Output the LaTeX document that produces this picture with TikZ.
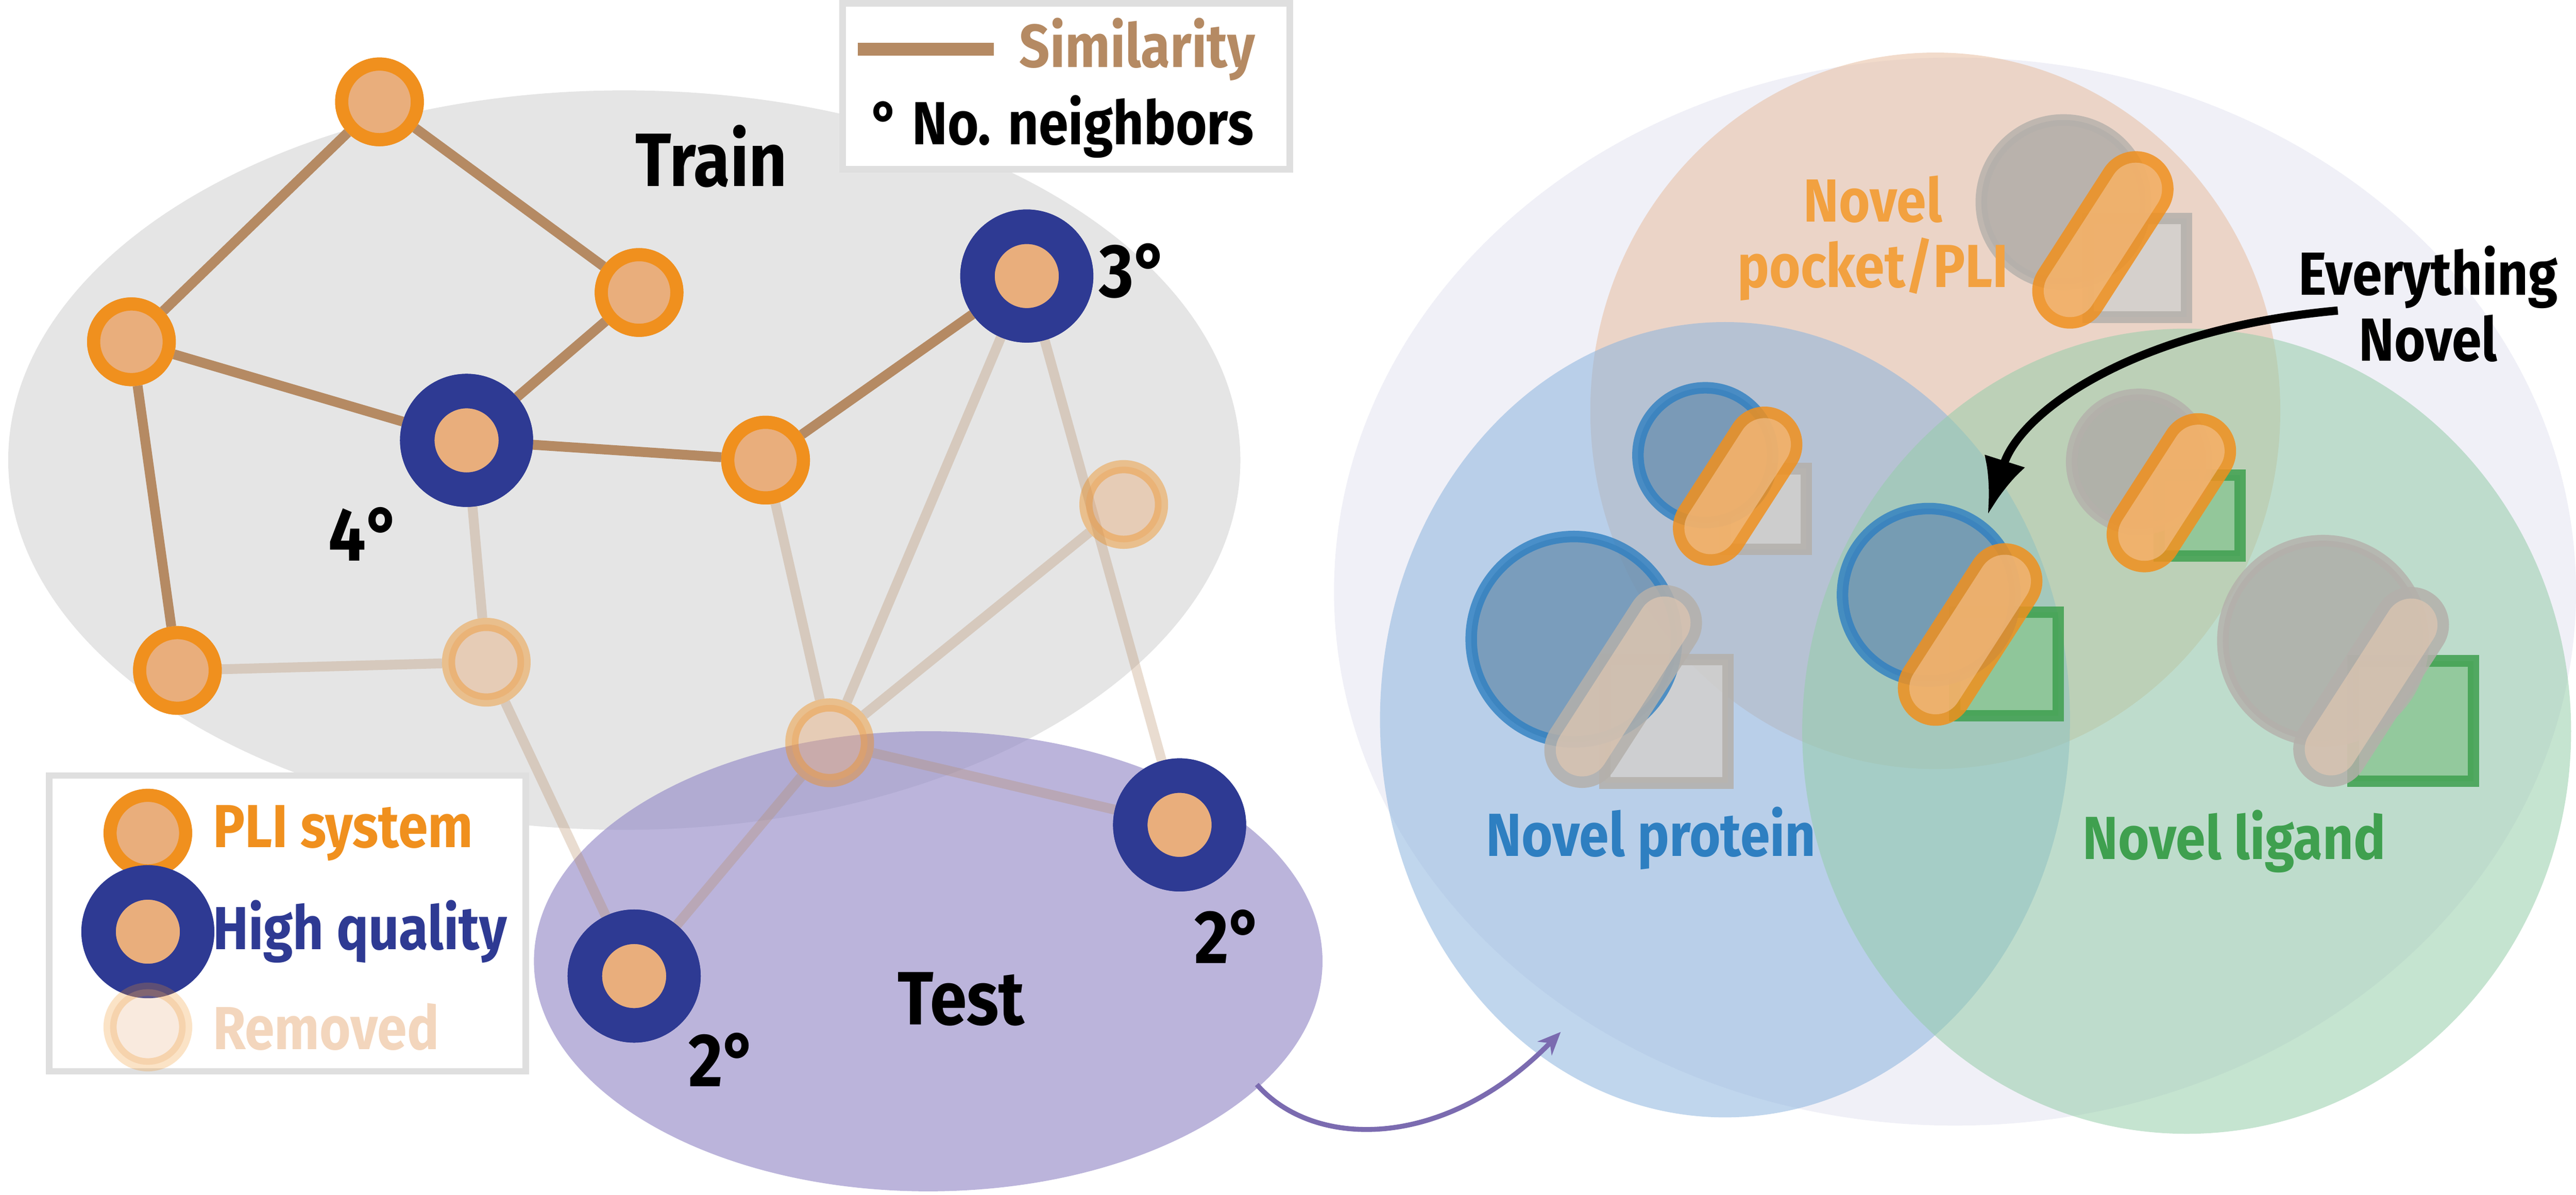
\documentclass[tikz,border=0pt]{standalone}
\usepackage{fontspec}
\setmainfont{Fira Sans}[FakeStretch=0.88]
\usetikzlibrary{arrows.meta}
\definecolor{pliorange}{HTML}{F0901E}
\definecolor{plifill}{HTML}{E9AE7C}
\definecolor{hqnavy}{HTML}{2E3A93}
\definecolor{simbrown}{HTML}{B58A63}
\definecolor{protblue}{HTML}{2E7FC1}
\definecolor{ligreen}{HTML}{3FA04F}
\definecolor{greyring}{HTML}{B4B0AB}
\definecolor{greyfill}{HTML}{A7A4A1}
\definecolor{testpurple}{RGB}{150,140,200}
\definecolor{splitpurple}{RGB}{123,107,176}
\definecolor{outerlav}{RGB}{240,240,247}
\definecolor{pocketpeach}{RGB}{232,190,160}
\definecolor{protregion}{RGB}{140,180,222}
\definecolor{ligregion}{RGB}{150,205,170}
\tikzset{
  pli/.style     = {circle, draw=pliorange, fill=plifill, line width=8pt, minimum size=46pt, inner sep=0pt},
  hq/.style      = {circle, draw=hqnavy, fill=plifill, line width=21pt, minimum size=60pt, inner sep=0pt},
  removed/.style = {pli, opacity=0.25},
  sim/.style     = {draw=simbrown, line width=6pt},
  faded/.style   = {sim, opacity=0.3},
  lbl/.style     = {font=\fontsize{46}{46}\selectfont\bfseries},
  txt/.style     = {font=\fontsize{37}{40}\selectfont\bfseries, align=center},
  region/.style  = {fill opacity=0.55}
}
% one protein-ligand system: protein, pocket, ligand
\newcommand{\plisys}[6]{%
  \begin{scope}[shift={(#1,#2)}, scale=#3]
    \draw[draw=#5, fill=#5!60!white, line width=7pt, opacity=0.85] (15,10) rectangle (75,70);
    \draw[draw=#4, fill=#4!50!greyfill, line width=7pt, opacity=0.8] (0,0) circle (50);
    \draw[#6, line width=46pt, line cap=round, opacity=0.85] (44,-8) -- (4,54);
    \draw[#6!45!plifill!70!white, line width=32pt, line cap=round, opacity=0.7] (44,-8) -- (4,54);
  \end{scope}}

\begin{document}
\begin{tikzpicture}[x=1pt, y=-1pt]
    \useasboundingbox (0,0) rectangle (1568,727);

    % train / test split
    \fill[gray!20] (380,280) ellipse [x radius=375, y radius=225];
    \fill[testpurple, opacity=0.65] (565,585) ellipse [x radius=240, y radius=140];

    % systems
    \node[pli] (a) at (231,62) {};
    \node[pli] (b) at (80,208) {};
    \node[pli] (c) at (389,178) {};
    \node[pli] (d) at (466,280) {};
    \node[pli] (e) at (108,408) {};
    \node[hq] (f) at (284,268) {};
    \node[hq] (g) at (625,168) {};
    \node[hq] (h) at (718,502) {};
    \node[hq] (i) at (386,594) {};
    \node[removed] (j) at (296,403) {};
    \node[removed] (k) at (684,307) {};
    \node[removed] (l) at (505,452) {};

    \draw[faded] (e) -- (j) (f) -- (j) (j) -- (i) (i) -- (l) (l) -- (g)
                 (l) -- (k) (l) -- (h) (d) -- (l) (g) -- (h);
    \draw[sim] (a) -- (b) (a) -- (c) (b) -- (f) (c) -- (f) (f) -- (d) (d) -- (g) (b) -- (e);
    % redraw nodes above the edges
    \foreach \n/\s in {a/pli,b/pli,c/pli,d/pli,e/pli,f/hq,g/hq,h/hq,i/hq,j/removed,k/removed,l/removed}
        \node[\s] at (\n) {};

    \node[lbl] at (433,95) {Train};
    \node[lbl] at (585,608) {Test};
    \node[lbl] at (222,325) {4°};
    \node[lbl] at (690,165) {3°};
    \node[lbl] at (748,570) {2°};
    \node[lbl] at (440,645) {2°};

    % legends
    \draw[gray!25, line width=4pt, fill=white] (513,2) rectangle (785,103);
    \draw[sim, line width=8pt] (522,30) -- (605,30);
    \node[txt, text=simbrown, anchor=west] at (617,30) {Similarity};
    \node[txt, anchor=west] at (527,77) {° No. neighbors};

    \draw[gray!25, line width=4pt, fill=white] (30,472) rectangle (320,652);
    \node[pli] (lega) at (90,507) {};
    \node[hq] (legb) at (90,567) {};
    \node[removed] (legc) at (90,625) {};
    \node[txt, text=pliorange, anchor=west] at (126,507) {PLI system};
    \node[txt, text=hqnavy, anchor=west] at (126,567) {High quality};
    \node[txt, text=plifill, opacity=0.5, anchor=west] at (126,625) {Removed};

    % novelty splits
    \fill[outerlav] (1190,360) ellipse [x radius=378, y radius=325];
    \fill[pocketpeach, region] (1178,250) ellipse [x radius=210, y radius=218];
    \fill[protregion, region] (1050,438) ellipse [x radius=210, y radius=242];
    \fill[ligregion, region] (1331,445) ellipse [x radius=234, y radius=245];

    \plisys{1256}{123}{1}{greyring}{greyring}{pliorange}
    \plisys{1038}{277}{0.82}{protblue}{greyring}{pliorange}
    \plisys{1174}{362}{1.05}{protblue}{ligreen}{pliorange}
    \plisys{1302}{281}{0.82}{greyring}{ligreen}{pliorange}
    \plisys{1414}{390}{1.22}{greyring}{ligreen}{greyring}
    \plisys{958}{389}{1.25}{protblue}{greyring}{greyring}

    \node[txt, text=pliorange!85!white] at (1140,145) {Novel\\pocket/PLI};
    \node[txt] (every) at (1478,185) {Everything\\Novel};
    \node[txt, text=protblue] at (1005,510) {Novel protein};
    \node[txt, text=ligreen] at (1360,512) {Novel ligand};

    \coordinate (evstart) at (1423,189);
    \coordinate (evtip) at (1210,313);
    \draw[-{Latex[length=34pt,width=26pt]}, line width=5pt] (evstart) .. controls (1300,200) and (1230,250) .. (evtip);

    \coordinate (split) at (765,660);
    \coordinate (splitend) at (950,628);
    \draw[-{Stealth[length=14pt,width=12pt]}, line width=3pt, splitpurple]
        (split) .. controls (800,700) and (880,700) .. (splitend);
\end{tikzpicture}
\end{document}
